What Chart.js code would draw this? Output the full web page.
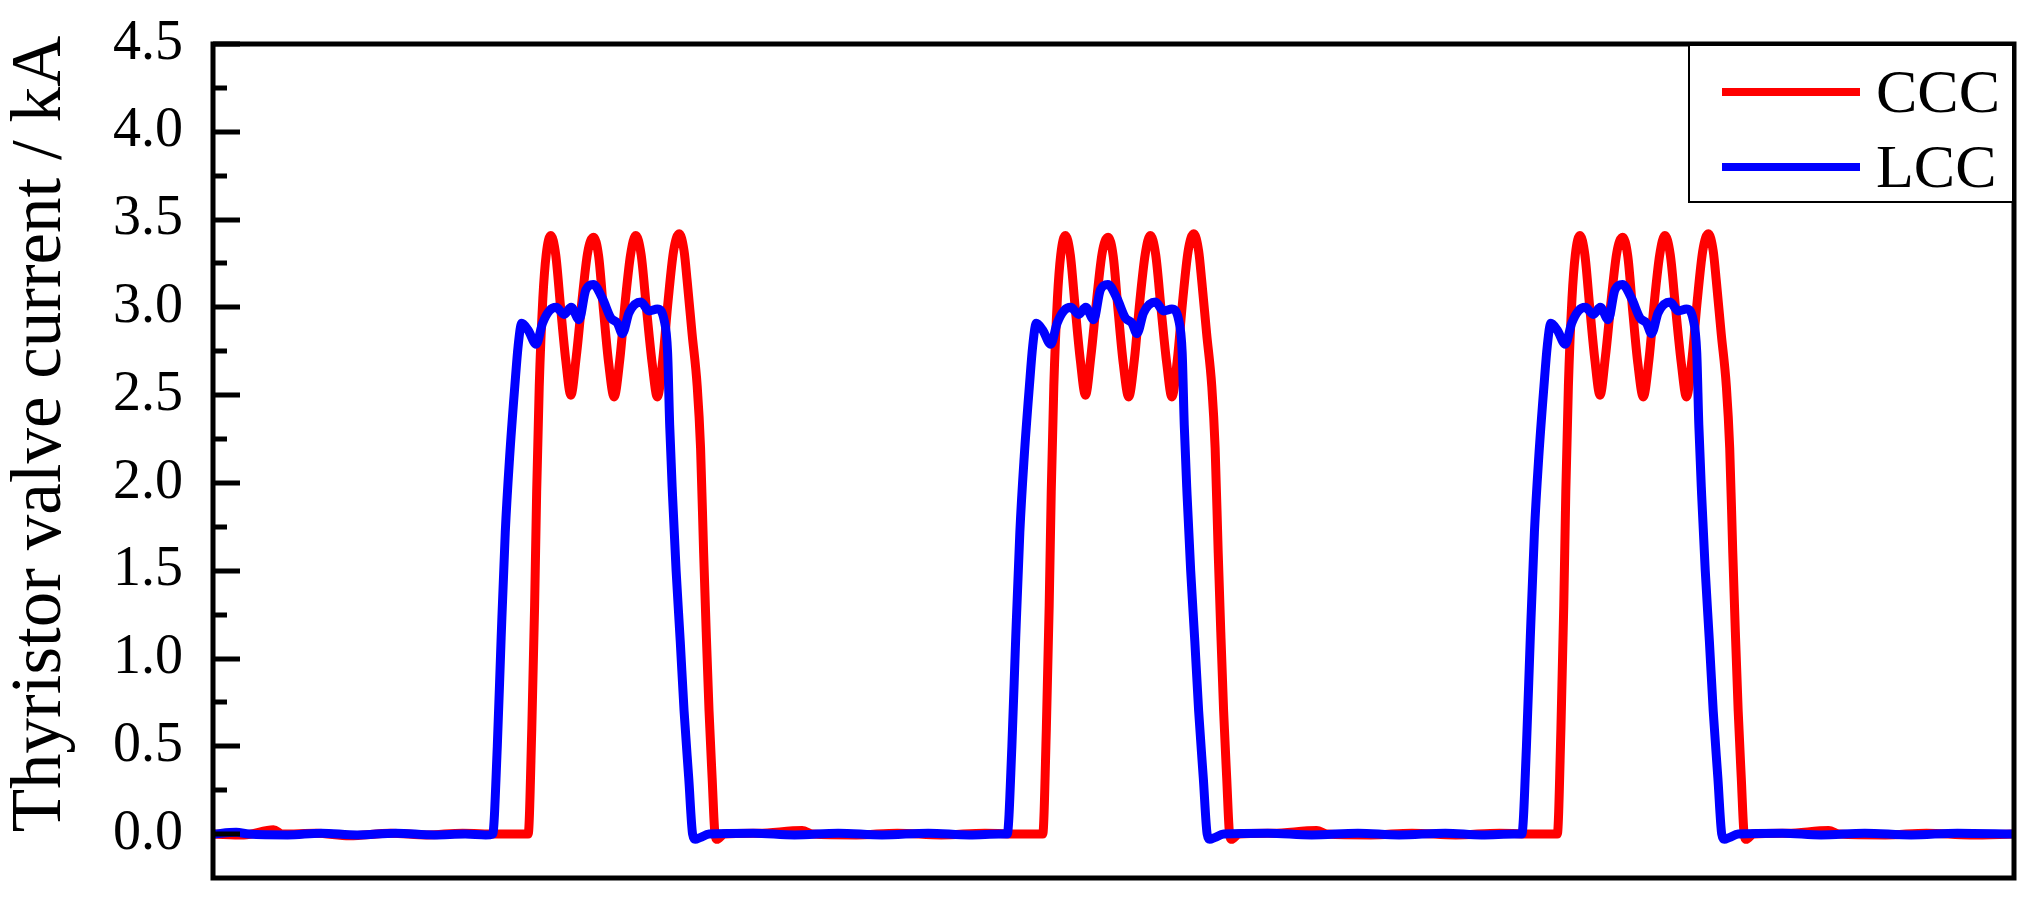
<!DOCTYPE html>
<html>
<head>
<meta charset="utf-8">
<script src="https://cdn.jsdelivr.net/npm/chart.js@4.4.1/dist/chart.umd.min.js"></script>
<style>
  html, body { margin: 0; padding: 0; background: #fff; }
  #wrap { width: 2032px; height: 901px; }
</style>
</head>
<body>
<div id="wrap"><canvas id="valveChart" width="2032" height="901"></canvas></div>
<script>
// time in ms, current in kA (20 ms per cycle)
const seriesNames = ['CCC', 'LCC'];
const seriesColors = ['#ff0000', '#0000ff'];
const yTickLabels = ['0.0', '0.5', '1.0', '1.5', '2.0', '2.5', '3.0', '3.5', '4.0', '4.5'];

const cccTime = [
  0, 1.2, 2.35, 2.7, 4.0, 5.3, 6.9, 8.3, 9.7, 11.0, 12.0,
  12.25, 12.39, 12.50, 12.58, 12.68, 12.82, 12.95, 13.13, 13.32, 13.51, 13.71, 13.91, 14.12, 14.35, 14.56,
  14.79, 14.99, 15.18, 15.38, 15.59, 15.81, 16.02, 16.23, 16.43, 16.64, 16.85, 17.07, 17.27, 17.48, 17.69,
  17.90, 18.12, 18.31, 18.43, 18.62, 18.82, 18.95, 19.07, 19.17, 19.28, 19.40, 19.51, 19.59, 19.86,
  21.2, 22.9, 23.3, 25.0, 26.6, 28.3, 30.0, 31.5, 32.0,
  32.25, 32.39, 32.50, 32.58, 32.68, 32.82, 32.95, 33.13, 33.32, 33.51, 33.71, 33.91, 34.12, 34.35, 34.56,
  34.79, 34.99, 35.18, 35.38, 35.59, 35.81, 36.02, 36.23, 36.43, 36.64, 36.85, 37.07, 37.27, 37.48, 37.69,
  37.90, 38.12, 38.31, 38.43, 38.62, 38.82, 38.95, 39.07, 39.17, 39.28, 39.40, 39.51, 39.59, 39.86,
  41.2, 42.9, 43.3, 45.0, 46.6, 48.3, 50.0, 51.5, 52.0,
  52.25, 52.39, 52.50, 52.58, 52.68, 52.82, 52.95, 53.13, 53.32, 53.51, 53.71, 53.91, 54.12, 54.35, 54.56,
  54.79, 54.99, 55.18, 55.38, 55.59, 55.81, 56.02, 56.23, 56.43, 56.64, 56.85, 57.07, 57.27, 57.48, 57.69,
  57.90, 58.12, 58.31, 58.43, 58.62, 58.82, 58.95, 59.07, 59.17, 59.28, 59.40, 59.51, 59.59, 59.86,
  61.2, 62.8, 63.2, 65.0, 66.6, 68.3, 70
];
const cccCurrent = [
  0.00, -0.005, 0.025, 0.00, 0.005, -0.01, 0.005, -0.005, 0.005, 0.00, 0.00,
  0.00, 0.60, 1.30, 1.95, 2.55, 3.05, 3.30, 3.41, 3.30, 3.00, 2.70, 2.50, 2.72, 3.05, 3.31,
  3.40, 3.29, 2.98, 2.68, 2.49, 2.70, 3.03, 3.30, 3.41, 3.30, 2.99, 2.68, 2.49, 2.70, 3.04,
  3.32, 3.42, 3.32, 3.15, 2.85, 2.55, 2.20, 1.60, 1.15, 0.70, 0.32, 0.00, -0.03, 0.00,
  0.005, 0.02, 0.00, -0.005, 0.005, -0.005, 0.005, 0.00, 0.00,
  0.00, 0.60, 1.30, 1.95, 2.55, 3.05, 3.30, 3.41, 3.30, 3.00, 2.70, 2.50, 2.72, 3.05, 3.31,
  3.40, 3.29, 2.98, 2.68, 2.49, 2.70, 3.03, 3.30, 3.41, 3.30, 2.99, 2.68, 2.49, 2.70, 3.04,
  3.32, 3.42, 3.32, 3.15, 2.85, 2.55, 2.20, 1.60, 1.15, 0.70, 0.32, 0.00, -0.03, 0.00,
  0.005, 0.02, 0.00, -0.005, 0.005, -0.005, 0.005, 0.00, 0.00,
  0.00, 0.60, 1.30, 1.95, 2.55, 3.05, 3.30, 3.41, 3.30, 3.00, 2.70, 2.50, 2.72, 3.05, 3.31,
  3.40, 3.29, 2.98, 2.68, 2.49, 2.70, 3.03, 3.30, 3.41, 3.30, 2.99, 2.68, 2.49, 2.70, 3.04,
  3.32, 3.42, 3.32, 3.15, 2.85, 2.55, 2.20, 1.60, 1.15, 0.70, 0.32, 0.00, -0.03, 0.00,
  0.005, 0.02, 0.00, -0.005, 0.005, -0.005, 0.00
];

const lccTime = [
  0, 0.9, 1.4, 2.9, 4.2, 5.6, 7.1, 8.6, 9.8, 10.6,
  10.87, 11.05, 11.20, 11.36, 11.53, 11.73, 11.86, 12.00, 12.25, 12.56, 12.81, 13.07, 13.34,
  13.65, 13.92, 14.23, 14.49, 14.78, 15.14, 15.46, 15.72, 15.91, 16.17, 16.63, 16.95, 17.27,
  17.53, 17.67, 17.75, 17.86, 18.00, 18.16, 18.31, 18.49, 18.64, 18.74, 18.93, 19.28,
  21.0, 22.6, 24.3, 26.0, 27.8, 29.4, 30.6,
  30.87, 31.05, 31.20, 31.36, 31.53, 31.73, 31.86, 32.00, 32.25, 32.56, 32.81, 33.07, 33.34,
  33.65, 33.92, 34.23, 34.49, 34.78, 35.14, 35.46, 35.72, 35.91, 36.17, 36.63, 36.95, 37.27,
  37.53, 37.67, 37.75, 37.86, 38.00, 38.16, 38.31, 38.49, 38.64, 38.74, 38.93, 39.28,
  41.0, 42.7, 44.5, 46.1, 47.9, 49.3, 50.6,
  50.87, 51.05, 51.20, 51.36, 51.53, 51.73, 51.86, 52.00, 52.25, 52.56, 52.81, 53.07, 53.34,
  53.65, 53.92, 54.23, 54.49, 54.78, 55.14, 55.46, 55.72, 55.91, 56.17, 56.63, 56.95, 57.27,
  57.53, 57.67, 57.75, 57.86, 58.00, 58.16, 58.31, 58.49, 58.64, 58.74, 58.93, 59.28,
  61.0, 62.5, 64.2, 66.0, 67.8, 70
];
const lccCurrent = [
  0.00, 0.01, 0.00, -0.005, 0.005, -0.005, 0.005, -0.005, 0.00, -0.005,
  0.00, 0.50, 1.12, 1.72, 2.15, 2.55, 2.78, 2.91, 2.87, 2.79, 2.91, 2.98, 3.00,
  2.96, 3.00, 2.93, 3.10, 3.13, 3.05, 2.94, 2.91, 2.85, 2.97, 3.03, 2.98, 2.99,
  2.93, 2.74, 2.33, 1.93, 1.50, 1.10, 0.70, 0.32, 0.00, -0.03, -0.02, 0.00,
  0.005, -0.005, 0.005, -0.005, 0.005, -0.005, 0.00,
  0.00, 0.50, 1.12, 1.72, 2.15, 2.55, 2.78, 2.91, 2.87, 2.79, 2.91, 2.98, 3.00,
  2.96, 3.00, 2.93, 3.10, 3.13, 3.05, 2.94, 2.91, 2.85, 2.97, 3.03, 2.98, 2.99,
  2.93, 2.74, 2.33, 1.93, 1.50, 1.10, 0.70, 0.32, 0.00, -0.03, -0.02, 0.00,
  0.005, -0.005, 0.005, -0.005, 0.005, -0.005, 0.00,
  0.00, 0.50, 1.12, 1.72, 2.15, 2.55, 2.78, 2.91, 2.87, 2.79, 2.91, 2.98, 3.00,
  2.96, 3.00, 2.93, 3.10, 3.13, 3.05, 2.94, 2.91, 2.85, 2.97, 3.03, 2.98, 2.99,
  2.93, 2.74, 2.33, 1.93, 1.50, 1.10, 0.70, 0.32, 0.00, -0.03, -0.02, 0.00,
  0.005, -0.005, 0.005, -0.005, 0.005, 0.00
];

function toPoints(xs, ys) {
  return xs.map((x, i) => ({ x: x, y: ys[i] }));
}

const SERIF = "'Liberation Serif', 'Times New Roman', serif";
// where the plot frame should sit on the canvas
const frameBox = { left: 213, top: 44, right: 2014, bottom: 878 };

// frame, inward ticks, legend box and axis title
const framePlugin = {
  id: 'frame',
  afterDatasetsDraw(chart) {
    const ctx = chart.ctx;
    const a = chart.chartArea;
    const y = chart.scales.y;
    ctx.save();
    ctx.strokeStyle = '#000';
    ctx.lineWidth = 5;
    ctx.strokeRect(a.left, a.top, a.right - a.left, a.bottom - a.top);

    // major and minor ticks on the left axis, pointing in
    ctx.beginPath();
    for (let v = 0; v <= 4.5 + 1e-9; v += 0.25) {
      const py = Math.round(y.getPixelForValue(v));
      const major = Math.abs(v / 0.5 - Math.round(v / 0.5)) < 1e-6;
      ctx.moveTo(a.left, py);
      ctx.lineTo(a.left + (major ? 27 : 14), py);
    }
    ctx.stroke();

    // legend
    const lx = 1689, ly = a.top, lw = a.right - 1689, lh = 202 - a.top;
    ctx.fillStyle = '#fff';
    ctx.fillRect(lx, ly + 2, lw - 2, lh - 2);
    ctx.lineWidth = 2;
    ctx.strokeRect(lx, ly, lw, lh);
    const rows = [92, 167];
    chart.data.datasets.forEach((ds, i) => {
      ctx.strokeStyle = ds.borderColor;
      ctx.lineWidth = 8;
      ctx.beginPath();
      ctx.moveTo(1722, rows[i]);
      ctx.lineTo(1860, rows[i]);
      ctx.stroke();
      ctx.fillStyle = '#000';
      ctx.font = '62px ' + SERIF;
      ctx.textBaseline = 'alphabetic';
      ctx.textAlign = 'left';
      ctx.fillText(ds.label, 1876, rows[i] + 20);
    });

    // y axis title
    ctx.translate(60, 434);
    ctx.rotate(-Math.PI / 2);
    ctx.fillStyle = '#000';
    ctx.font = '71px ' + SERIF;
    ctx.textAlign = 'center';
    ctx.textBaseline = 'alphabetic';
    ctx.fillText('Thyristor valve current / kA', 0, 0);
    ctx.restore();
  }
};

const pad = { left: 0, top: 44, right: 18, bottom: 23 };

const ctx = document.getElementById('valveChart').getContext('2d');
const valveChart = new Chart(ctx, {
  type: 'line',
  data: {
    datasets: [
      {
        label: seriesNames[0],
        data: toPoints(cccTime, cccCurrent),
        borderColor: seriesColors[0],
        order: 1
      },
      {
        label: seriesNames[1],
        data: toPoints(lccTime, lccCurrent),
        borderColor: seriesColors[1],
        order: 0
      }
    ]
  },
  options: {
    responsive: false,
    animation: false,
    devicePixelRatio: 1,
    layout: { padding: pad, autoPadding: false },
    elements: {
      point: { radius: 0 },
      line: { borderWidth: 9, cubicInterpolationMode: 'monotone', fill: false }
    },
    scales: {
      x: {
        type: 'linear',
        min: 0,
        max: 70,
        display: false
      },
      y: {
        type: 'linear',
        min: -0.25,
        max: 4.5,
        grid: { display: false, drawTicks: false },
        border: { display: false },
        ticks: {
          stepSize: 0.5,
          includeBounds: false,
          padding: 30,
          color: '#000',
          font: { family: SERIF, size: 56 },
          callback: function(value) {
            const idx = Math.round(value / 0.5);
            return yTickLabels[idx] !== undefined ? yTickLabels[idx] : '';
          }
        },
        afterFit: function(scale) {
          scale.width = 213;
          scale.paddingTop = 0;
          scale.paddingBottom = 0;
        }
      }
    },
    plugins: {
      legend: { display: false },
      tooltip: { enabled: false }
    }
  },
  plugins: [framePlugin]
});

// nudge the padding until the plot area lands on the frame box
for (let k = 0; k < 3; k++) {
  const a = valveChart.chartArea;
  if (!a) break;
  pad.top += frameBox.top - a.top;
  pad.bottom += a.bottom - frameBox.bottom;
  pad.right += a.right - frameBox.right;
  valveChart.options.layout.padding = Object.assign({}, pad);
  valveChart.update();
}
</script>
</body>
</html>
